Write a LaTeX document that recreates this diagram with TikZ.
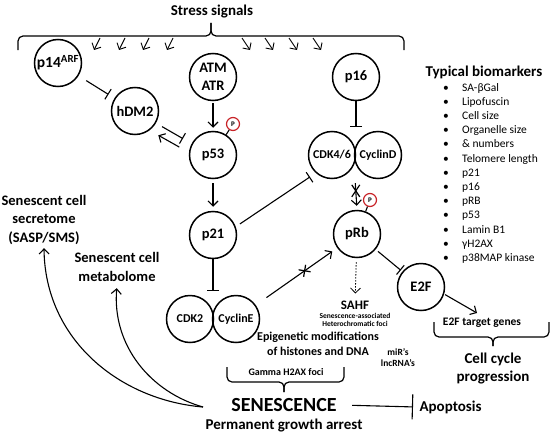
\documentclass[tikz,border=0pt]{standalone}
\usepackage{fontspec}
\setmainfont{Carlito}
\usetikzlibrary{arrows.meta,calc}
\definecolor{phosred}{RGB}{200,35,40}
\newcommand\fsz[2]{\fontsize{#1}{#2}\selectfont}
\tikzset{
  mol/.style={draw,circle,line width=1.5pt,minimum size=47pt,inner sep=0pt,align=center,font=\bfseries\fsz{14.5}{18}},
  cplx/.style={mol,font=\bfseries\fsz{12}{14}},
  phos/.style={draw=phosred,circle,line width=1.2pt,minimum size=13pt,inner sep=0pt,font=\bfseries\fsz{7}{8}},
  act/.style={-{Straight Barb[length=5pt,width=10pt]},line width=1.1pt},
  inh/.style={-{Bar[width=12pt]},line width=1.1pt},
  blk/.style={line width=1.2pt},
  brk/.style={line width=1.2pt,rounded corners=5pt},
}
\begin{document}
\begin{tikzpicture}[x=1pt,y=-1pt]
        \useasboundingbox (0,0) rectangle (553,436);
        % Senescence pathways
        \node[font=\bfseries\fsz{15}{18}] (stress) at (212,12) {Stress signals};
        \draw[brk] (18,50) -- (18,36) -- (211,36) -- (211,23);
        \draw[brk] (211,23) -- (211,36) -- (404,36) -- (404,50);
        \foreach \x in {100,125,149,173} \draw[act,line width=0.9pt] (\x,38) -- (\x-6,50);
        \foreach \x in {242,265,289,313} \draw[act,line width=0.9pt] (\x,38) -- (\x+8,50);

        \node[mol,font=\bfseries\fsz{15.5}{18}] (p14) at (58,63) {p14\textsuperscript{ARF}};
        \node[mol] (atm) at (213,77) {ATM\\ATR};
        \node[mol] (hdm2) at (135,111) {hDM2};
        \node[mol] (p16) at (356,77) {p16};
        \node[mol] (p53) at (213,155) {p53};
        \node[mol] (p21) at (213,235) {p21};
        \node[cplx] (cdk46) at (332,155) {CDK4/6};
        \node[cplx] (cycd) at (378,155) {CyclinD};
        \node[mol] (prb) at (357,234) {pRb};
        \node[mol] (e2f) at (421,287) {E2F};
        \node[cplx] (cdk2) at (190,319) {CDK2};
        \node[cplx] (cyce) at (236,319) {CyclinE};
        \node[phos] (p53p) at (233,124) {P};
        \node[phos] (prbp) at (370,200) {P};
        \draw[line width=1.1pt] (p53p) -- (p53);
        \draw[line width=1.1pt] (prbp) -- (prb);

        \draw[inh,shorten <=9pt,shorten >=7pt] (p14) -- (hdm2);
        \draw[inh,shorten <=7pt,shorten >=10pt] (hdm2.-30) -- (p53.152);
        \draw[act,shorten <=11pt,shorten >=10pt] (p53.174) -- (hdm2.-53);
        \draw[act,shorten <=2pt,shorten >=3pt] (atm) -- (p53);
        \draw[act,shorten <=4pt,shorten >=4pt] (p53) -- (p21);
        \draw[inh,shorten <=5pt,shorten >=7pt] (p21.20) -- (cdk46.-132);
        \draw[inh,shorten >=4pt] (p16) -- (p16 |- cdk46.north);
        \draw[act,shorten <=4pt,shorten >=4pt] ($(cdk46.south)!0.5!(cycd.south)$) -- (prb.north)
          coordinate[pos=0.38] (blk1);
        \draw[blk] ($(blk1)+(-4,-6)$) -- ($(blk1)+(4,6)$) ($(blk1)+(-4,6)$) -- ($(blk1)+(4,-6)$);
        \draw[inh,shorten >=4pt] (p21) -- (p21 |- cdk2.north);
        \draw[act,shorten <=13pt,shorten >=6pt] (cyce) -- (prb) coordinate[pos=0.6] (blk2);
        \draw[blk] ($(blk2)+(-1,6)$) -- ($(blk2)+(1,-6)$) ($(blk2)+(-6,-1)$) -- ($(blk2)+(6,1)$);
        \draw[inh,shorten <=3pt,shorten >=2pt] (prb) -- (e2f);

        \node[font=\bfseries\fsz{13}{15},inner sep=1pt] (sahf) at (355,305) {SAHF};
        \node[font=\bfseries\fsz{7.5}{8},align=center,inner sep=1pt] (sahfsub) at (355,320) {Senescence-associated\\Heterochromatic foci};
        \draw[act,line width=0.8pt,dash pattern=on 1.5pt off 1.5pt,shorten <=4pt,shorten >=6pt] (prb) -- (sahf);

        \coordinate (tgin) at (477,313);
        \draw[act,shorten <=1pt] (e2f.-17) -- (tgin);
        \node[font=\bfseries\fsz{11.5}{14}] (tgenes) at (482,323) {E2F target genes};
        \draw[brk] (434,322) -- (434,337) -- (493,337) -- (493,346);
        \draw[brk] (493,346) -- (493,337) -- (549,337) -- (549,322);
        \node[font=\bfseries\fsz{15}{18},align=center] (cycle) at (493,369) {Cell cycle\\progression};

        \node[font=\bfseries\fsz{12}{15},align=center] (epi) at (318,344) {Epigenetic modifications\\of histones and DNA};
        \node[font=\bfseries\fsz{9.5}{11},align=center] (mir) at (398,358) {miR’s\\lncRNA’s};
        \node[font=\bfseries\fsz{10}{12}] (gamma) at (286,372) {Gamma H2AX foci};
        \draw[brk] (227,367) -- (227,382) -- (284,382) -- (284,392);
        \draw[brk] (284,392) -- (284,382) -- (344,382) -- (344,367);

        \node[font=\bfseries\fsz{20}{24}] (sen) at (284,405) {SENESCENCE};
        \node[font=\bfseries\fsz{15}{18}] (perm) at (284,426) {Permanent growth arrest};
        \node[font=\bfseries\fsz{15}{18},anchor=west] (apop) at (416,407) {Apoptosis};
        \draw[-{Bar[width=25pt]},line width=1.1pt,shorten <=12pt,shorten >=3pt] (sen.east) -- (apop.west);

        \node[font=\bfseries\fsz{14.5}{18.5},align=center] (sasp) at (44,220) {Senescent cell\\secretome\\(SASP/SMS)};
        \node[font=\bfseries\fsz{14.5}{19},align=center] (meta) at (117,267) {Senescent cell\\metabolome};
        \coordinate (senl) at (203,407);
        \draw[act] (senl) .. controls (120,400) and (45,340) .. (sasp.south);
        \draw[act,shorten >=3pt] (senl) .. controls (150,392) and (112,345) .. (meta.south);

        \node[font=\bfseries\fsz{15}{18}] (bmtitle) at (484,72) {Typical biomarkers};
        \node[anchor=north west,align=left,inner sep=0pt,font=\fsz{11.5}{14.2}] (bmlist) at (443,83) {%
          \makebox[19pt][l]{\textbullet}SA-βGal\\
          \makebox[19pt][l]{\textbullet}Lipofuscin\\
          \makebox[19pt][l]{\textbullet}Cell size\\
          \makebox[19pt][l]{\textbullet}Organelle size\\
          \makebox[19pt][l]{\textbullet}\& numbers\\
          \makebox[19pt][l]{\textbullet}Telomere length\\
          \makebox[19pt][l]{\textbullet}p21\\
          \makebox[19pt][l]{\textbullet}p16\\
          \makebox[19pt][l]{\textbullet}pRB\\
          \makebox[19pt][l]{\textbullet}p53\\
          \makebox[19pt][l]{\textbullet}Lamin B1\\
          \makebox[19pt][l]{\textbullet}γH2AX\\
          \makebox[19pt][l]{\textbullet}p38MAP kinase};
    \end{tikzpicture}
\end{document}
